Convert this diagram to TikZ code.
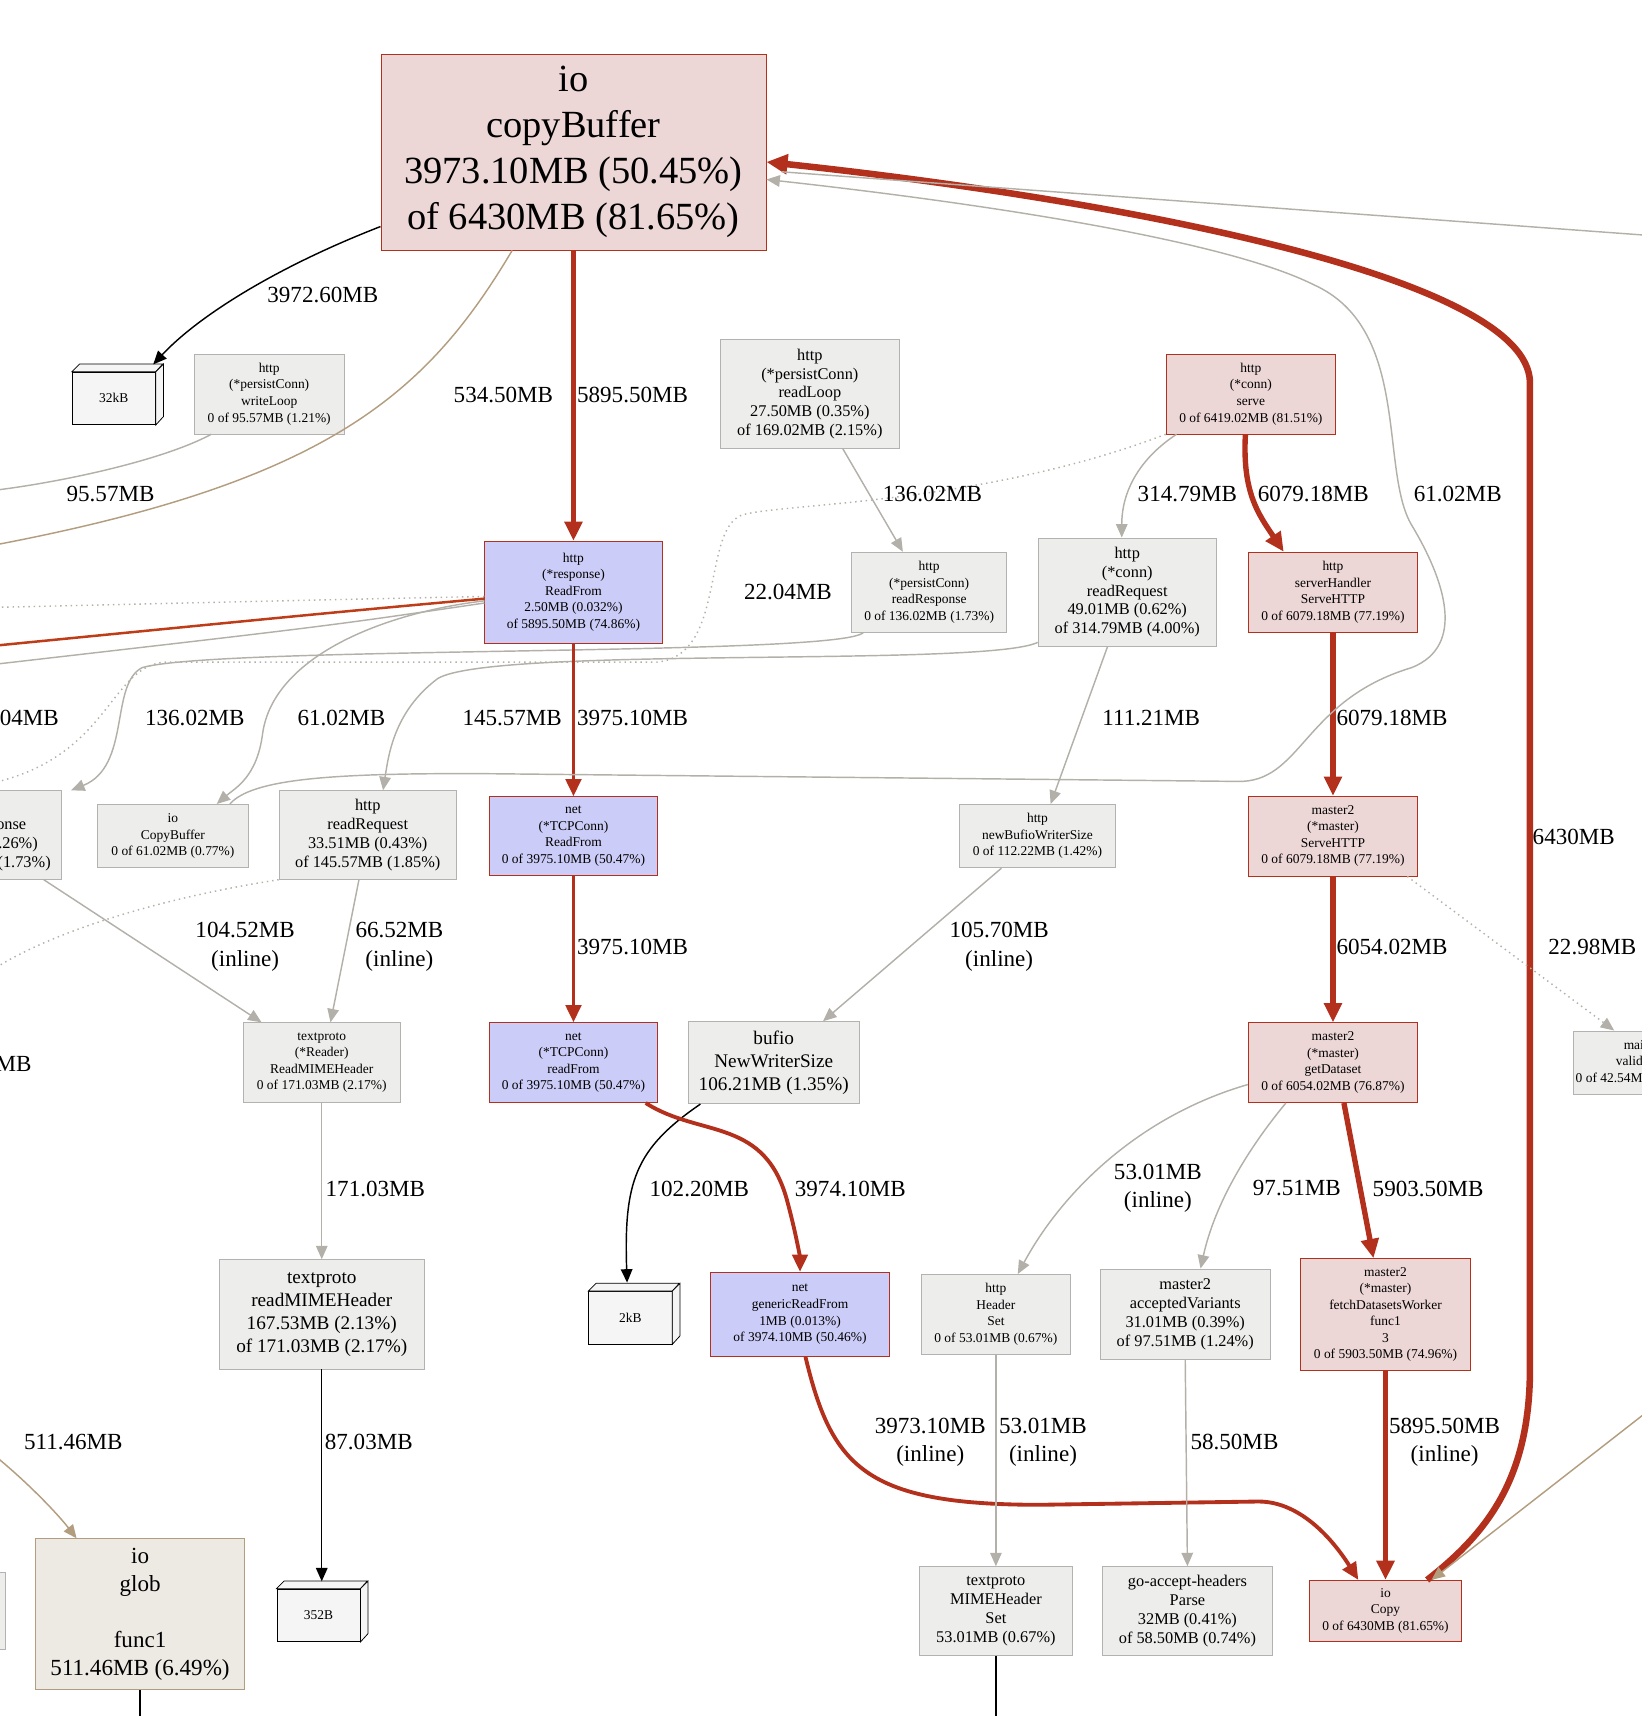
\documentclass[tikz,border=0pt]{standalone}
\usepackage{fontspec}
\setmainfont{Liberation Serif}
\usetikzlibrary{arrows.meta,calc}
\definecolor{hot}{HTML}{B2301C}
\definecolor{hotf}{HTML}{EDD7D6}
\definecolor{bluef}{HTML}{CCCCF8}
\definecolor{coldf}{HTML}{EDEDEC}
\definecolor{coldb}{HTML}{B2B2B0}
\definecolor{grayE}{HTML}{B2B0A8}
\definecolor{tan}{HTML}{B29D7F}
\definecolor{tanf}{HTML}{EDE9E3}
\begin{document}
\begin{tikzpicture}[x=0.02cm,y=-0.02cm]
    \tikzstyle{fn}=[draw,rectangle,align=center,inner sep=1pt,font=\fontsize{7}{8.6}\selectfont]
    \tikzstyle{hotfn}=[fn,draw=hot,fill=hotf]
    \tikzstyle{bluefn}=[fn,draw=hot,fill=bluef]
    \tikzstyle{coldfn}=[fn,draw=coldb,fill=coldf]
    \tikzstyle{mid}=[font=\fontsize{8.5}{9.8}\selectfont]
    \tikzstyle{lbl}=[align=center,font=\fontsize{12}{14.8}\selectfont]
    \tikzstyle{cube}=[draw,fill=white!96!black,font=\fontsize{7}{8}\selectfont,minimum width=1.52cm,minimum height=0.96cm]
    \tikzstyle{grayline}=[draw=grayE,line width=0.75pt,-{Triangle[length=7pt,width=6pt]}]
    \tikzstyle{hotline}=[draw=hot,line width=2pt,-{Triangle[length=9pt,width=8pt]}]
    \tikzstyle{hotthick}=[draw=hot,line width=2.8pt,-{Triangle[length=10pt,width=9pt]}]
    \tikzstyle{blkline}=[draw=black,line width=0.75pt,-{Triangle[length=7pt,width=6pt]}]
    \tikzstyle{tanline}=[draw=tan,line width=0.75pt,-{Triangle[length=7pt,width=6pt]}]
    \tikzstyle{dotline}=[draw=grayE,line width=0.75pt,dotted]

    \useasboundingbox (0,0) rectangle (1500,1568);

    % function nodes
    \node[hotfn,minimum width=7.04cm,minimum height=3.58cm,font=\fontsize{20}{24}\selectfont] (cb) at (524,139) {io\\copyBuffer\\3973.10MB (50.45\%)\\of 6430MB (81.65\%)};
    \node[coldfn,minimum width=2.74cm,minimum height=1.46cm] (wl) at (246,360) {http\\(*persistConn)\\writeLoop\\0 of 95.57MB (1.21\%)};
    \node[coldfn,mid,minimum width=3.26cm,minimum height=1.98cm] (rl) at (740,360) {http\\(*persistConn)\\readLoop\\27.50MB (0.35\%)\\of 169.02MB (2.15\%)};
    \node[hotfn,minimum width=3.1cm,minimum height=1.46cm] (sv) at (1143,360) {http\\(*conn)\\serve\\0 of 6419.02MB (81.51\%)};
    \node[bluefn,minimum width=3.24cm,minimum height=1.86cm] (rf) at (524,541) {http\\(*response)\\ReadFrom\\2.50MB (0.032\%)\\of 5895.50MB (74.86\%)};
    \node[coldfn,minimum width=2.84cm,minimum height=1.46cm] (rs) at (849,541) {http\\(*persistConn)\\readResponse\\0 of 136.02MB (1.73\%)};
    \node[coldfn,mid,minimum width=3.26cm,minimum height=1.98cm] (rq) at (1030,541) {http\\(*conn)\\readRequest\\49.01MB (0.62\%)\\of 314.79MB (4.00\%)};
    \node[hotfn,minimum width=3.1cm,minimum height=1.46cm] (sh) at (1218,541) {http\\serverHandler\\ServeHTTP\\0 of 6079.18MB (77.19\%)};
    \node[coldfn,mid,minimum width=3.04cm,minimum height=1.62cm] (lp) at (-20,763) {http\\ReadResponse\\20.50MB (0.26\%)\\of 136.02MB (1.73\%)};
    \node[coldfn,minimum width=2.76cm,minimum height=1.16cm] (icb) at (158,764) {io\\CopyBuffer\\0 of 61.02MB (0.77\%)};
    \node[coldfn,mid,minimum width=3.24cm,minimum height=1.62cm] (rh) at (336,763) {http\\readRequest\\33.51MB (0.43\%)\\of 145.57MB (1.85\%)};
    \node[bluefn,minimum width=3.08cm,minimum height=1.44cm] (tr) at (524,764) {net\\(*TCPConn)\\ReadFrom\\0 of 3975.10MB (50.47\%)};
    \node[coldfn,minimum width=2.86cm,minimum height=1.16cm] (nb) at (948,764) {http\\newBufioWriterSize\\0 of 112.22MB (1.42\%)};
    \node[hotfn,minimum width=3.1cm,minimum height=1.46cm] (ms) at (1218,764) {master2\\(*master)\\ServeHTTP\\0 of 6079.18MB (77.19\%)};
    \node[coldfn,minimum width=2.86cm,minimum height=1.46cm] (rmh) at (294,971) {textproto\\(*Reader)\\ReadMIMEHeader\\0 of 171.03MB (2.17\%)};
    \node[bluefn,minimum width=3.08cm,minimum height=1.46cm] (trf) at (524,971) {net\\(*TCPConn)\\readFrom\\0 of 3975.10MB (50.47\%)};
    \node[coldfn,minimum width=3.12cm,minimum height=1.5cm,font=\fontsize{10}{12}\selectfont] (nws) at (707,971) {bufio\\NewWriterSize\\106.21MB (1.35\%)};
    \node[hotfn,minimum width=3.1cm,minimum height=1.46cm] (gd) at (1218,971) {master2\\(*master)\\getDataset\\0 of 6054.02MB (76.87\%)};
    \node[coldfn,minimum width=2.2cm,minimum height=1.16cm] (val) at (1496,971) {main\\validate\\0 of 42.54MB (0.54\%)};
    \node[coldfn,minimum width=3.76cm,minimum height=2cm,font=\fontsize{10}{12}\selectfont] (rmh2) at (294,1201) {textproto\\readMIMEHeader\\167.53MB (2.13\%)\\of 171.03MB (2.17\%)};
    \node[bluefn,minimum width=3.26cm,minimum height=1.54cm] (grf) at (731,1201) {net\\genericReadFrom\\1MB (0.013\%)\\of 3974.10MB (50.46\%)};
    \node[coldfn,minimum width=2.72cm,minimum height=1.46cm] (hs) at (910,1201) {http\\Header\\Set\\0 of 53.01MB (0.67\%)};
    \node[coldfn,mid,minimum width=3.1cm,minimum height=1.66cm] (av) at (1083,1201) {master2\\acceptedVariants\\31.01MB (0.39\%)\\of 97.51MB (1.24\%)};
    \node[hotfn,minimum width=3.1cm,minimum height=2.04cm] (fw) at (1266,1201) {master2\\(*master)\\fetchDatasetsWorker\\func1\\3\\0 of 5903.50MB (74.96\%)};
    \node[fn,draw=tan,fill=tanf,minimum width=3.82cm,minimum height=2.76cm,font=\fontsize{12}{14.5}\selectfont] (glob) at (128,1475) {io\\glob\\\mbox{}\\func1\\511.46MB (6.49\%)};
    \node[coldfn,minimum width=1.4cm,minimum height=1.42cm] (lb) at (-30,1472) {};
    \node[coldfn,mid,minimum width=2.78cm,minimum height=1.62cm] (ms2) at (910,1472) {textproto\\MIMEHeader\\Set\\53.01MB (0.67\%)};
    \node[coldfn,mid,minimum width=3.1cm,minimum height=1.62cm] (gp) at (1085,1472) {go-accept-headers\\Parse\\32MB (0.41\%)\\of 58.50MB (0.74\%)};
    \node[hotfn,minimum width=2.78cm,minimum height=1.12cm] (ic) at (1266,1472) {io\\Copy\\0 of 6430MB (81.65\%)};

    % allocation cubes
    \node[cube] (k32) at (104,364) {32kB};
    \node[cube] (k2) at (576,1204) {2kB};
    \node[cube] (k352) at (291,1476) {352B};
    \foreach \k in {k32,k2,k352} {
        \draw[fill=white!96!black] (\k.north west) -- ++(7,-7) -- ++(76,0) -- ($(\k.north east)$) -- cycle;
        \draw[fill=white!96!black] (\k.north east) -- ++(7,-7) -- ++(0,48) -- (\k.south east) -- cycle;
    }
    \coordinate (k32t) at (140,333);
    \coordinate (k2t) at (573,1172);
    \coordinate (k352t) at (294,1445);

    % off-picture ends
    \coordinate (o1) at (-5,498);
    \coordinate (o2) at (-5,448);
    \coordinate (o3) at (-5,555);
    \coordinate (o4) at (-5,590);
    \coordinate (o5) at (-5,607);
    \coordinate (o6) at (-5,715);
    \coordinate (o7) at (-5,885);
    \coordinate (o8) at (1505,215);
    \coordinate (o9) at (1505,1290);
    \coordinate (o10) at (-5,1330);
    \coordinate (o11) at (910,1575);
    \coordinate (o12) at (128,1575);

    % edges
    \draw[blkline] ($(cb.west)+(0,68)$) .. controls (250,245) and (180,290) .. (k32t);
    \draw[tan,line width=0.75pt] ($(cb.south)+(-56,0)$) .. controls (390,360) and (300,440) .. (o1);
    \draw[hotthick] (cb.south) -- (rf.north);
    \draw[grayE,line width=0.75pt] ($(wl.south)+(-53,0)$) .. controls (150,420) and (60,440) .. (o2);
    \draw[grayline] ($(rl.south)+(30,0)$) -- ($(rs.north)+(-24,0)$);
    \draw[grayline] ($(sv.south)+(-68,0)$) .. controls (1040,420) and (1025,450) .. ($(rq.north)+(-5,0)$);
    \draw[hotthick] ($(sv.south)+(-5,0)$) .. controls (1135,450) and (1150,470) .. ($(sh.north)+(-45,0)$);
    \draw[dotline] (sv.south west) .. controls (900,460) and (720,460) .. (680,470) .. controls (640,480) and (665,600) .. (600,605) -- (150,605) .. controls (100,610) and (100,690) .. (o6);
    \draw[dotline] ($(rf.west)+(0,4)$) .. controls (300,548) .. (o3);
    \draw[draw=hot!85!orange,line width=1.3pt] ($(rf.west)+(0,6)$) .. controls (300,560) .. (o4);
    \draw[grayE,line width=0.75pt] ($(rf.west)+(0,10)$) .. controls (300,572) .. (o5);
    \draw[grayline] ($(rf.west)+(0,8)$) .. controls (350,560) and (250,600) .. (240,670) .. controls (235,710) and (215,720) .. ($(icb.north)+(40,0)$);
    \draw[grayline] ($(rs.south)+(-60,0)$) .. controls (770,600) and (200,590) .. (130,610) .. controls (100,625) and (120,700) .. ($(lp.north)+(85,0)$);
    \draw[grayline] ($(rq.west)+(0,46)$) .. controls (900,610) and (450,590) .. (400,620) .. controls (360,650) and (355,690) .. ($(rh.north)+(14,0)$);
    \draw[hotline] (rf.south) -- (tr.north);
    \draw[grayline] ($(rq.south)+(-18,0)$) -- ($(nb.north)+(12,0)$);
    \draw[hotthick] (sh.south) -- (ms.north);
    \draw[grayline] ($(icb.north)+(52,0)$) .. controls (230,712) and (300,706) .. (450,707) -- (1130,714) .. controls (1190,716) and (1190,640) .. (1290,610) .. controls (1340,590) and (1320,530) .. (1290,480) .. controls (1260,430) and (1290,300) .. (1200,260) .. controls (1100,210) and (800,175) .. ($(cb.east)+(0,25)$);
    \draw[hotline,line width=3.4pt,-{Triangle[length=11pt,width=10pt]}] ($(ic.north)+(38,0)$) .. controls (1360,1400) and (1398,1350) .. (1398,1250) -- (1398,350) .. controls (1398,250) and (1000,180) .. ($(cb.east)+(0,9)$);
    \draw[grayE,line width=0.75pt] (o8) -- ($(cb.east)+(14,18)$);
    \draw[grayline] ($(lp.south)+(60,0)$) -- ($(rmh.north)+(-55,0)$);
    \draw[grayline] ($(rh.south)+(-8,0)$) -- ($(rmh.north)+(8,0)$);
    \draw[dotline] (rh.south west) .. controls (150,820) and (50,850) .. (o7);
    \draw[hotline] (tr.south) -- (trf.north);
    \draw[grayline] ($(nb.south)+(-33,0)$) -- ($(nws.north)+(45,0)$);
    \draw[hotthick] (ms.south) -- (gd.north);
    \draw[dotline,-{Triangle[length=7pt,width=6pt]}] ($(ms.south east)+(-10,0)$) -- ($(val.north)+(-21,0)$);
    \draw[grayline] (rmh.south) -- (rmh2.north);
    \draw[blkline] ($(nws.south)+(-67,0)$) .. controls (580,1050) and (570,1080) .. (k2t);
    \draw[hotline] ($(trf.south)+(66,0)$) .. controls (640,1040) and (700,1020) .. (720,1100) .. controls (728,1130) and (731,1150) .. (grf.north);
    \draw[grayline] ($(gd.west)+(0,20)$) .. controls (1040,1020) and (970,1090) .. ($(hs.north)+(20,0)$);
    \draw[grayline] ($(gd.south)+(-43,0)$) .. controls (1140,1050) and (1110,1100) .. ($(av.north)+(14,0)$);
    \draw[hotthick] ($(gd.south)+(10,0)$) -- ($(fw.north)+(-11,0)$);
    \draw[blkline] (rmh2.south) -- (k352t);
    \draw[hotline] ($(grf.south)+(5,0)$) .. controls (760,1340) and (790,1375) .. (950,1375) -- (1150,1372) .. controls (1190,1372) and (1220,1410) .. ($(ic.north west)+(45,0)$);
    \draw[grayline] (hs.south) -- (ms2.north);
    \draw[grayline] (av.south) -- (gp.north);
    \draw[hotthick] (fw.south) -- (ic.north);
    \draw[tanline] (o9) -- ($(ic.north)+(42,0)$);
    \draw[tanline] (o10) .. controls (20,1350) and (50,1380) .. ($(glob.north)+(-58,0)$);
    \draw[black,line width=0.75pt] (ms2.south) -- (o11);
    \draw[black,line width=0.75pt] (glob.south) -- (o12);

    % edge labels
    \node[lbl] (l1) at (295,270) {3972.60MB};
    \node[lbl] (l2) at (460,361) {534.50MB};
    \node[lbl] (l3) at (578,361) {5895.50MB};
    \node[lbl] (l4) at (101,451) {95.57MB};
    \node[lbl] (l5) at (852,451) {136.02MB};
    \node[lbl] (l6) at (1085,451) {314.79MB};
    \node[lbl] (l7) at (1200,451) {6079.18MB};
    \node[lbl] (l8) at (1332,451) {61.02MB};
    \node[lbl] (l9) at (720,541) {22.04MB};
    \node[lbl,anchor=east] (l10) at (60,656) {22.04MB};
    \node[lbl] (l11) at (178,656) {136.02MB};
    \node[lbl] (l12) at (312,656) {61.02MB};
    \node[lbl] (l13) at (468,656) {145.57MB};
    \node[lbl] (l14) at (578,656) {3975.10MB};
    \node[lbl] (l15) at (1052,656) {111.21MB};
    \node[lbl] (l16) at (1272,656) {6079.18MB};
    \node[lbl] (l17) at (1438,765) {6430MB};
    \node[lbl] (l18) at (224,865) {104.52MB\\(inline)};
    \node[lbl] (l19) at (365,865) {66.52MB\\(inline)};
    \node[lbl] (l20) at (578,865) {3975.10MB};
    \node[lbl] (l21) at (913,865) {105.70MB\\(inline)};
    \node[lbl] (l22) at (1272,865) {6054.02MB};
    \node[lbl] (l23) at (1455,865) {22.98MB};
    \node[lbl,anchor=east] (l24) at (35,972) {22.04MB};
    \node[lbl] (l25) at (343,1086) {171.03MB};
    \node[lbl] (l26) at (639,1086) {102.20MB};
    \node[lbl] (l27) at (777,1086) {3974.10MB};
    \node[lbl] (l28) at (1058,1086) {53.01MB\\(inline)};
    \node[lbl] (l29) at (1185,1086) {97.51MB};
    \node[lbl] (l30) at (1305,1086) {5903.50MB};
    \node[lbl] (l31) at (67,1318) {511.46MB};
    \node[lbl] (l32) at (337,1318) {87.03MB};
    \node[lbl] (l33) at (850,1318) {3973.10MB\\(inline)};
    \node[lbl] (l34) at (953,1318) {53.01MB\\(inline)};
    \node[lbl] (l35) at (1128,1318) {58.50MB};
    \node[lbl] (l36) at (1320,1318) {5895.50MB\\(inline)};
\end{tikzpicture}
\end{document}
